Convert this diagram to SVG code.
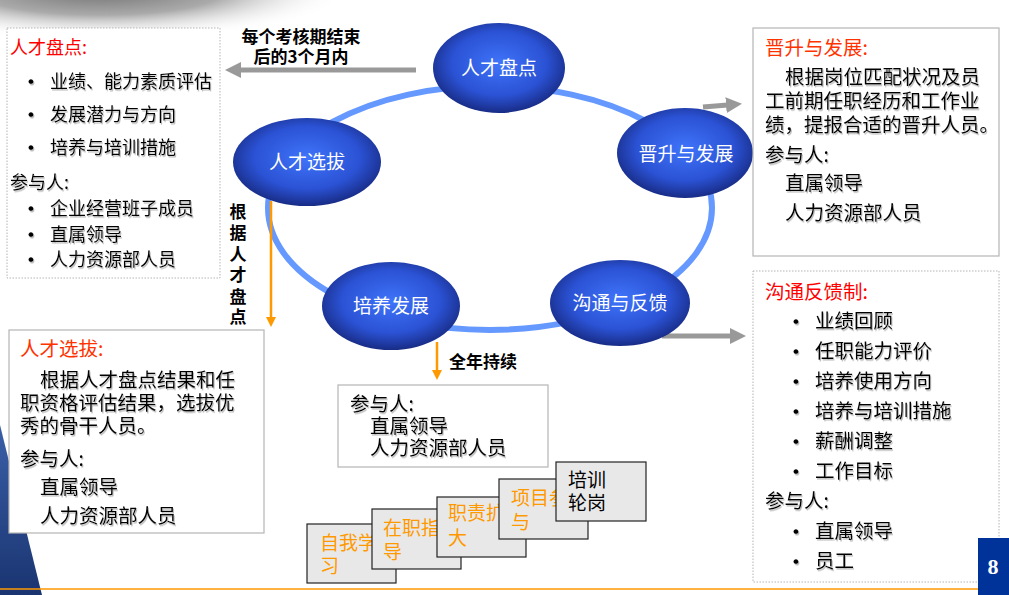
<svg xmlns="http://www.w3.org/2000/svg" width="1009" height="595" viewBox="0 0 1009 595">
<style>
.t{font-family:"Noto Sans CJK SC","Noto Sans",sans-serif;fill:#000}
.s19{font-size:19.5px}
.s18{font-size:18px}
.red{fill:#ff0000}
.ored{fill:#ff3300}
.b{font-weight:bold;font-size:17px}
.bu{font-family:"Liberation Sans",Arial,sans-serif;font-size:17px;font-weight:bold}
.node text{font-family:"Noto Sans CJK SC",sans-serif;font-size:19px;fill:#fff;text-anchor:middle}
.box{fill:#fff;stroke:#b5b5b5;stroke-width:1.2}
.dot{fill:#fff;stroke:#b5b5b5;stroke-width:1;stroke-dasharray:1.5 1.5}
.card{fill:#e8e8e8;stroke:#222;stroke-width:1.2}
.ct{font-family:"Noto Sans CJK SC",sans-serif;font-size:19px;fill:#ff9900}
.gray{stroke:#999;stroke-width:5;fill:none}
.orng{stroke:#ff9900;stroke-width:2.5;fill:none}
</style>
<defs>
<radialGradient id="ng" cx="0.5" cy="0.45" r="0.55">
<stop offset="0" stop-color="#3f74fa"/>
<stop offset="0.65" stop-color="#2b52d4"/>
<stop offset="1" stop-color="#182c86"/>
</radialGradient>
<radialGradient id="shade" cx="100" cy="-10" r="250" gradientUnits="userSpaceOnUse" gradientTransform="translate(100,-10) scale(1,0.2) translate(-100,10)">
<stop offset="0" stop-color="#707070"/>
<stop offset="0.5" stop-color="#aaaaaa"/>
<stop offset="1" stop-color="#ffffff" stop-opacity="0"/>
</radialGradient>
<linearGradient id="tri" x1="0" y1="0" x2="0" y2="1">
<stop offset="0" stop-color="#3a5fa8"/>
<stop offset="1" stop-color="#1a3470"/>
</linearGradient>
<marker id="ag" viewBox="0 0 10 10" refX="5" refY="5" markerWidth="3.2" markerHeight="3.2" orient="auto">
<path d="M0,0 L10,5 L0,10 Z" fill="#999"/>
</marker>
<marker id="ao" viewBox="0 0 10 10" refX="5" refY="5" markerWidth="4" markerHeight="4" orient="auto">
<path d="M0,0 L10,5 L0,10 Z" fill="#ff9900"/>
</marker>
<filter id="sh" x="-5%" y="-20%" width="110%" height="140%">
<feDropShadow dx="1" dy="1.5" stdDeviation="0.6" flood-color="#888" flood-opacity="0.6"/>
</filter>
</defs>

<rect width="1009" height="595" fill="#fff"/>
<rect x="0" y="0" width="360" height="52" fill="url(#shade)"/>
<polygon points="0,425 42,595 0,595" fill="url(#tri)"/>
<line x1="0" y1="589" x2="1009" y2="589" stroke="#ff9900" stroke-width="1.5"/>

<!-- ring -->
<ellipse cx="490" cy="208" rx="222" ry="122" fill="none" stroke="#6699ff" stroke-width="6"/>

<!-- connectors -->
<g id="connectors">
<line class="gray" x1="416" y1="70" x2="233" y2="70" marker-end="url(#ag)"/>
<line class="gray" x1="703" y1="107" x2="734" y2="104.5" marker-end="url(#ag)"/>
<line class="gray" x1="662" y1="336" x2="738" y2="336" marker-end="url(#ag)"/>
<line class="orng" x1="271" y1="201" x2="271" y2="322" marker-end="url(#ao)"/>
<line class="orng" x1="437" y1="342" x2="437" y2="375" marker-end="url(#ao)"/>
</g>

<!-- connector labels -->
<g id="labels" class="t" font-weight="bold">
<text class="b" x="301" y="43" text-anchor="middle">每个考核期结束</text>
<text class="b" x="301" y="63" text-anchor="middle">后的3个月内</text>
<text class="b" x="449" y="368">全年持续</text>
<text class="b" x="238" text-anchor="middle"><tspan x="238" y="218">根</tspan><tspan x="238" y="239">据</tspan><tspan x="238" y="261">人</tspan><tspan x="238" y="281">才</tspan><tspan x="238" y="303">盘</tspan><tspan x="238" y="323">点</tspan></text>
</g>

<!-- nodes -->
<g id="n-pandian" class="node"><ellipse cx="499" cy="68" rx="66" ry="45" fill="url(#ng)"/><text x="499" y="75">人才盘点</text></g>
<g id="n-jinsheng" class="node"><ellipse cx="685" cy="153" rx="68" ry="45" fill="url(#ng)"/><text x="686" y="161">晋升与发展</text></g>
<g id="n-xuanba" class="node"><ellipse cx="307" cy="162" rx="74" ry="44" fill="url(#ng)"/><text x="307" y="169">人才选拔</text></g>
<g id="n-peiyang" class="node"><ellipse cx="391" cy="306" rx="69" ry="44" fill="url(#ng)"/><text x="391" y="313">培养发展</text></g>
<g id="n-goutong" class="node"><ellipse cx="620" cy="303" rx="70" ry="43" fill="url(#ng)"/><text x="620" y="310">沟通与反馈</text></g>

<!-- box: 人才盘点 -->
<g id="box-pandian">
<rect class="dot" x="7" y="28" width="213" height="250"/>
<text class="t s18 red" x="10" y="54">人才盘点:</text>
<g class="t s18" filter="url(#sh)">
<text class="bu" x="28" y="87">•</text><text x="50" y="88">业绩、能力素质评估</text>
<text class="bu" x="28" y="120">•</text><text x="50" y="121">发展潜力与方向</text>
<text class="bu" x="28" y="153">•</text><text x="50" y="154">培养与培训措施</text>
<text x="10" y="189">参与人:</text>
<text class="bu" x="28" y="214">•</text><text x="50" y="215">企业经营班子成员</text>
<text class="bu" x="28" y="240">•</text><text x="50" y="241">直属领导</text>
<text class="bu" x="28" y="265">•</text><text x="50" y="266">人力资源部人员</text>
</g>
</g>

<!-- box: 晋升与发展 -->
<g id="box-jinsheng">
<rect class="box" x="753" y="28" width="246" height="228"/>
<text class="t s19 ored" x="765" y="55">晋升与发展:</text>
<g class="t s19" filter="url(#sh)">
<text x="785" y="84">根据岗位匹配状况及员</text>
<text x="765" y="108">工前期任职经历和工作业</text>
<text x="765" y="132">绩，提报合适的晋升人员。</text>
<text x="765" y="162">参与人:</text>
<text x="785" y="190">直属领导</text>
<text x="785" y="220">人力资源部人员</text>
</g>
</g>

<!-- box: 沟通反馈制 -->
<g id="box-goutong">
<rect class="dot" x="753" y="271" width="246" height="311"/>
<text class="t s19 red" x="765" y="299">沟通反馈制:</text>
<g class="t s19" filter="url(#sh)">
<text class="bu" x="793" y="327">•</text><text x="815" y="328">业绩回顾</text>
<text class="bu" x="793" y="357">•</text><text x="815" y="358">任职能力评价</text>
<text class="bu" x="793" y="387">•</text><text x="815" y="388">培养使用方向</text>
<text class="bu" x="793" y="417">•</text><text x="815" y="418">培养与培训措施</text>
<text class="bu" x="793" y="447">•</text><text x="815" y="448">薪酬调整</text>
<text class="bu" x="793" y="477">•</text><text x="815" y="478">工作目标</text>
<text x="765" y="508">参与人:</text>
<text class="bu" x="793" y="537">•</text><text x="815" y="538">直属领导</text>
<text class="bu" x="793" y="567">•</text><text x="815" y="568">员工</text>
</g>
</g>

<!-- box: 人才选拔 -->
<g id="box-xuanba">
<rect class="box" x="9" y="330" width="255" height="203"/>
<text class="t s19 ored" x="20" y="356">人才选拔:</text>
<g class="t s19" filter="url(#sh)">
<text x="40" y="387">根据人才盘点结果和任</text>
<text x="20" y="410">职资格评估结果，选拔优</text>
<text x="20" y="433">秀的骨干人员。</text>
<text x="20" y="466">参与人:</text>
<text x="40" y="494">直属领导</text>
<text x="40" y="523">人力资源部人员</text>
</g>
</g>

<!-- box: 全年持续 participants -->
<g id="box-peiyang">
<rect class="box" x="338" y="385" width="210" height="82"/>
<g class="t s19" filter="url(#sh)">
<text x="350" y="411">参与人:</text>
<text x="370" y="433">直属领导</text>
<text x="370" y="455">人力资源部人员</text>
</g>
</g>

<!-- stacked cards -->
<g id="card-1"><rect class="card" x="307" y="524" width="89" height="59"/><text class="ct" x="320" y="550">自我学</text><text class="ct" x="320" y="573">习</text></g>
<g id="card-2"><rect class="card" x="372" y="509" width="89" height="60"/><text class="ct" x="383" y="535">在职指</text><text class="ct" x="383" y="559">导</text></g>
<g id="card-3"><rect class="card" x="437" y="497" width="89" height="60"/><text class="ct" x="448" y="520">职责扩</text><text class="ct" x="448" y="545">大</text></g>
<g id="card-4"><rect class="card" x="499" y="479" width="89" height="60"/><text class="ct" x="511" y="505">项目参</text><text class="ct" x="511" y="529">与</text></g>
<g id="card-5"><rect class="card" x="556" y="462" width="90" height="59"/><text class="ct" style="fill:#000" x="568" y="487">培训</text><text class="ct" style="fill:#000" x="568" y="510">轮岗</text></g>

<!-- page number -->
<g id="page">
<rect x="978" y="538" width="31" height="57" fill="#003399"/>
<text x="993" y="574" text-anchor="middle" font-family="Liberation Serif,serif" font-weight="bold" font-size="22" fill="#fff">8</text>
</g>
</svg>
